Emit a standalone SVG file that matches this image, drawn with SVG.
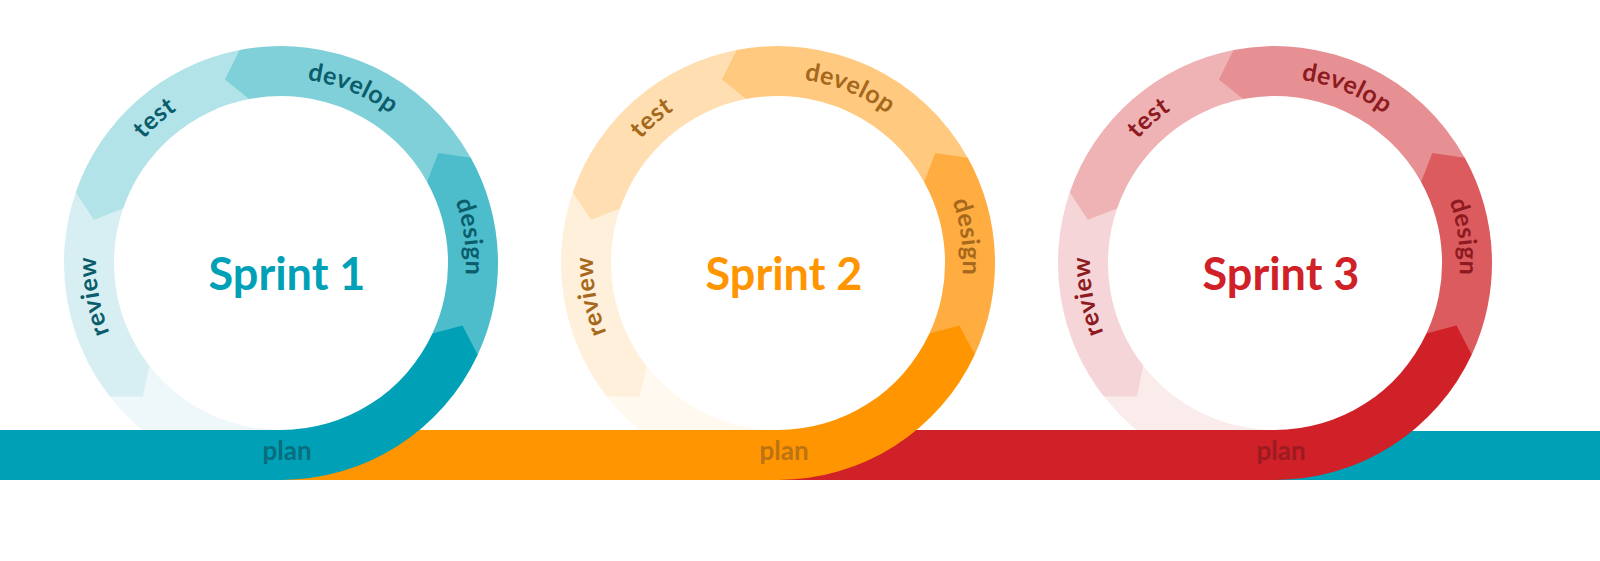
<svg xmlns="http://www.w3.org/2000/svg" xmlns:xlink="http://www.w3.org/1999/xlink" width="1600" height="561" viewBox="0 0 1600 561">
<style>
.lbl{font-family:Lato,"Noto Sans",sans-serif;font-weight:700;font-size:25px;letter-spacing:0.5px}
.ttl{font-family:Lato,"Noto Sans",sans-serif;font-weight:700;font-size:45px;text-anchor:middle}
.plan{font-family:Lato,"Noto Sans",sans-serif;font-weight:700;font-size:26px;text-anchor:middle}
.s1 .c0{fill:#00a1b7}.s1 .c1{fill:#4dbdcb}.s1 .c2{fill:#80d0da}.s1 .c3{fill:#b2e3e9}.s1 .c4{fill:#d7eff3}.s1 .c5{fill:#eef8fa}.s1 text.lbl,.s1 .plan{fill:#0b5d6b}.s1 .ttl{fill:#00a1b7}
.s2 .c0{fill:#ff9500}.s2 .c1{fill:#ffad40}.s2 .c2{fill:#ffca80}.s2 .c3{fill:#ffdfb1}.s2 .c4{fill:#fff0db}.s2 .c5{fill:#fff9ef}.s2 text.lbl,.s2 .plan{fill:#a5681c}.s2 .ttl{fill:#ff9500}
.s3 .c0{fill:#cf2127}.s3 .c1{fill:#dc5b5f}.s3 .c2{fill:#e69093}.s3 .c3{fill:#efb3b5}.s3 .c4{fill:#f5d5d7}.s3 .c5{fill:#fbecec}.s3 text.lbl,.s3 .plan{fill:#8c1a1f}.s3 .ttl{fill:#cf2127}
.plan{opacity:0.75}
</style>
<defs>
<path id="lp" d="M 0,185 A 185 185 0 1 1 0,-185 A 185 185 0 1 1 0,185"/>
<path id="p5" d="M -171.0,133.6 A 217 217 0 0 0 0,217 L 0,167 A 167 167 0 0 1 -131.6,102.8 Z"/>
<path id="p4" d="M -205.2,-70.7 A 217 217 0 0 0 -171.0,133.6 L -138.1,133.4 L -131.6,102.8 A 167 167 0 0 1 -157.9,-54.4 Z"/>
<path id="p3" d="M -41.4,-213.0 A 217 217 0 0 0 -205.2,-70.7 L -187.1,-43.2 L -157.9,-54.4 A 167 167 0 0 1 -31.9,-163.9 Z"/>
<path id="p2" d="M 189.8,-105.2 A 217 217 0 0 0 -41.4,-213.0 L -56.1,-183.6 L -31.9,-163.9 A 167 167 0 0 1 146.1,-81.0 Z"/>
<path id="p1" d="M 196.7,91.7 A 217 217 0 0 0 189.8,-105.2 L 157.3,-110.1 L 146.1,-81.0 A 167 167 0 0 1 151.4,70.6 Z"/>
<path id="p0" d="M 0,217 A 217 217 0 0 0 196.7,91.7 L 181.5,62.5 L 151.4,70.6 A 167 167 0 0 1 0,167 Z"/>
</defs>
<g id="connectors">
<rect x="1275" y="431" width="325" height="49" fill="#00a1b7"/>
</g>
<g id="sprint3" class="s3" transform="translate(1275,263)">
<use href="#p5" class="c5"/><use href="#p4" class="c4"/><use href="#p3" class="c3"/><use href="#p2" class="c2"/><use href="#p1" class="c1"/>
<rect x="-497" y="167" width="497" height="50" class="c0"/>
<use href="#p0" class="c0"/>
<text class="lbl" text-anchor="middle"><textPath href="#lp" startOffset="22.2%">review</textPath></text>
<text class="lbl" text-anchor="middle"><textPath href="#lp" startOffset="38.6%">test</textPath></text>
<text class="lbl" text-anchor="middle"><textPath href="#lp" startOffset="56.2%">develop</textPath></text>
<text class="lbl" text-anchor="middle"><textPath href="#lp" startOffset="72.8%">design</textPath></text>
<text class="plan" x="6" y="197">plan</text>
<text class="ttl" x="6" y="27">Sprint 3</text>
</g>
<g id="sprint2" class="s2" transform="translate(778,263)">
<use href="#p5" class="c5"/><use href="#p4" class="c4"/><use href="#p3" class="c3"/><use href="#p2" class="c2"/><use href="#p1" class="c1"/>
<rect x="-497" y="167" width="497" height="50" class="c0"/>
<use href="#p0" class="c0"/>
<text class="lbl" text-anchor="middle"><textPath href="#lp" startOffset="22.2%">review</textPath></text>
<text class="lbl" text-anchor="middle"><textPath href="#lp" startOffset="38.6%">test</textPath></text>
<text class="lbl" text-anchor="middle"><textPath href="#lp" startOffset="56.2%">develop</textPath></text>
<text class="lbl" text-anchor="middle"><textPath href="#lp" startOffset="72.8%">design</textPath></text>
<text class="plan" x="6" y="197">plan</text>
<text class="ttl" x="6" y="27">Sprint 2</text>
</g>
<g id="sprint1" class="s1" transform="translate(281,263)">
<use href="#p5" class="c5"/><use href="#p4" class="c4"/><use href="#p3" class="c3"/><use href="#p2" class="c2"/><use href="#p1" class="c1"/>
<rect x="-281" y="167" width="281" height="50" class="c0"/>
<use href="#p0" class="c0"/>
<text class="lbl" text-anchor="middle"><textPath href="#lp" startOffset="22.2%">review</textPath></text>
<text class="lbl" text-anchor="middle"><textPath href="#lp" startOffset="38.6%">test</textPath></text>
<text class="lbl" text-anchor="middle"><textPath href="#lp" startOffset="56.2%">develop</textPath></text>
<text class="lbl" text-anchor="middle"><textPath href="#lp" startOffset="72.8%">design</textPath></text>
<text class="plan" x="6" y="197">plan</text>
<text class="ttl" x="6" y="27">Sprint 1</text>
</g>
</svg>
